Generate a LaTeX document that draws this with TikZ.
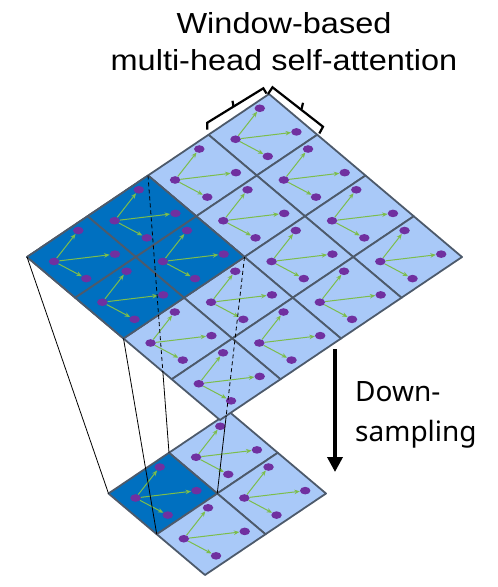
\documentclass[tikz,border=0pt]{standalone}
\usepackage{fontspec}
\newfontfamily\titlefont[FakeStretch=1.12]{Liberation Sans}
\newfontfamily\labelfont{Noto Sans}
\usetikzlibrary{shapes.geometric,arrows.meta,calc}

\definecolor{lightcell}{HTML}{A9C9F8}
\definecolor{darkcell}{HTML}{0070C0}
\definecolor{gridline}{HTML}{4D5A6B}
\definecolor{tokendot}{HTML}{7030A0}
\definecolor{attnarrow}{HTML}{7CBD4B}

\newcommand\mkcell[4]{%
  \pgfmathtruncatemacro\ia{#2+1}\pgfmathtruncatemacro\ja{#3+1}%
  \path[#4] (#1-#2-#3) -- (#1-\ia-#3) -- (#1-\ia-\ja) -- (#1-#2-\ja) -- cycle;%
}
\newcommand\mktokens[3]{%
  \node[token] (#1s-#2-#3) at ($(#1-#2-#3)+0.31*(u)+0.80*(v)$) {};%
  \node[token] (#1a-#2-#3) at ($(#1-#2-#3)+0.11*(u)+0.24*(v)$) {};%
  \node[token] (#1b-#2-#3) at ($(#1-#2-#3)+0.77*(u)+0.16*(v)$) {};%
  \node[token] (#1c-#2-#3) at ($(#1-#2-#3)+0.84*(u)+0.69*(v)$) {};%
  \draw[attn] (#1s-#2-#3) -- (#1a-#2-#3);%
  \draw[attn] (#1s-#2-#3) -- (#1b-#2-#3);%
  \draw[attn] (#1s-#2-#3) -- (#1c-#2-#3);%
}

\begin{document}
\begin{tikzpicture}[x=1pt,y=-1pt,
  cellbox/.style={fill=lightcell,draw=gridline,line width=1.8pt,line join=round},
  darkbox/.style={fill=darkcell,draw=gridline,line width=1.8pt,line join=round},
  token/.style={ellipse,fill=tokendot,draw=none,inner sep=0pt,minimum width=10.5pt,minimum height=7.6pt},
  attn/.style={draw=attnarrow,line width=1pt,-{Stealth[length=5.5pt,width=4.5pt]}},
  link/.style={line width=0.8pt,black},
  hiddenlink/.style={line width=0.8pt,black,dash pattern=on 4pt off 3pt},
  brace/.style={line width=2.2pt,black,line join=miter},
  title/.style={font=\titlefont\fontsize{29}{36}\selectfont,anchor=base,inner sep=0pt},
  sidelabel/.style={font=\labelfont\fontsize{28}{34}\selectfont,anchor=base west,inner sep=0pt},
]
\useasboundingbox (0,0) rectangle (498,587);

\coordinate (u) at (48.25,40.75);
\coordinate (v) at (-60.5,40.75);

% grid corner coordinates
\foreach \i in {0,...,4}{\foreach \j in {0,...,4}{
  \coordinate (tg-\i-\j) at ({269+48.25*\i-60.5*\j},{94+40.75*\i+40.75*\j});
}}
\foreach \i in {0,...,2}{\foreach \j in {0,...,2}{
  \coordinate (bg-\i-\j) at ({229.5+48.25*\i-60.5*\j},{412+40.75*\i+40.75*\j});
}}

% lower (down-sampled) grid
\foreach \i in {0,1}{\foreach \j in {0,1}{
  \ifnum\i=0 \ifnum\j=1 \mkcell{bg}{\i}{\j}{darkbox}\else\mkcell{bg}{\i}{\j}{cellbox}\fi
  \else \mkcell{bg}{\i}{\j}{cellbox}\fi
}}
\foreach \i in {0,1}{\foreach \j in {0,1}{\mktokens{bg}{\i}{\j}}}

% upper grid
\foreach \i in {0,...,3}{\foreach \j in {0,...,3}{
  \mkcell{tg}{\i}{\j}{cellbox}
}}
\foreach \i in {0,1}{\foreach \j in {2,3}{
  \mkcell{tg}{\i}{\j}{darkbox}
}}
\foreach \i in {0,...,3}{\foreach \j in {0,...,3}{\mktokens{tg}{\i}{\j}}}

% projection lines
\coordinate (pa) at (tg-0-2);
\coordinate (pb) at (bg-0-1);
\coordinate (pc) at (tg-2-2);
\coordinate (pd) at (bg-1-1);
\coordinate (el) at (tg-0-4);
\coordinate (eb) at (tg-4-4);
\coordinate (er) at (tg-4-0);
\coordinate (xa) at (intersection of pa--pb and el--eb);
\coordinate (xc) at (intersection of pc--pd and er--eb);
\draw[link] (tg-0-4) -- (bg-0-2);
\draw[link] (tg-2-4) -- (bg-1-2);
\draw[hiddenlink] (pa) -- (xa);
\draw[link] (xa) -- (pb);
\draw[hiddenlink] (pc) -- (xc);
\draw[link] (xc) -- (pd);

% window braces
\draw[brace] (207.3,129.5) -- (207.3,122.7) -- (263.3,88.3) -- (266.5,93.5);
\draw[brace] (233.5,106.6) -- (232.5,100.8);
\draw[brace] (268,94) -- (272.5,87.3) -- (323,126.7) -- (319.3,133.5);
\draw[brace] (301.5,109.2) -- (303,102.8);

% labels
\node[title] (t1) at (284,33.3) {Window-based};
\node[title] (t2) at (284,70) {multi-head self-attention};

\coordinate (arrs) at (335,349);
\coordinate (arre) at (335,472);
\draw[line width=3.5pt,-{Triangle[length=15pt,width=15pt]}] (arrs) -- (arre);
\node[sidelabel] (d1) at (355,401) {Down-};
\node[sidelabel] (d2) at (355,441) {sampling};
\end{tikzpicture}
\end{document}
